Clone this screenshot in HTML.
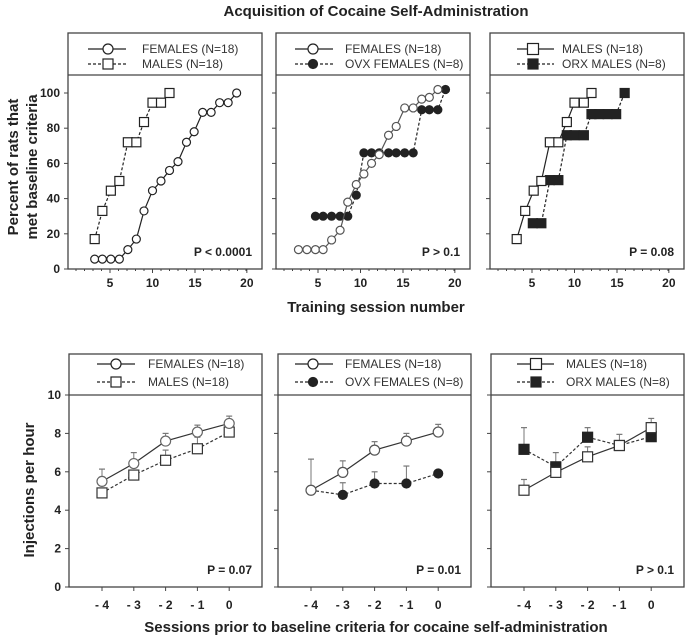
<!DOCTYPE html>
<html><head><meta charset="utf-8"><style>
body{margin:0;background:#fff}
svg{display:block;font-family:"Liberation Sans",Arial,sans-serif}
.tk{font-size:12px;font-weight:bold;fill:#222}
.lg{font-size:12px;fill:#333}
.pv{font-size:12px;font-weight:bold;fill:#222}
.ttl{font-size:15px;font-weight:bold;fill:#222}
</style></head><body>
<svg id="chart" width="685" height="636" viewBox="0 0 685 636">
<text class="ttl" x="376" y="16" text-anchor="middle">Acquisition of Cocaine Self-Administration</text>
<text class="ttl" x="376" y="312" text-anchor="middle">Training session number</text>
<text class="ttl" x="376" y="632" text-anchor="middle">Sessions prior to baseline criteria for cocaine self-administration</text>
<text class="ttl" transform="translate(18,167) rotate(-90)" text-anchor="middle">Percent of rats that</text>
<text class="ttl" transform="translate(37,167) rotate(-90)" text-anchor="middle">met baseline criteria</text>
<text class="ttl" transform="translate(34,490) rotate(-90)" text-anchor="middle">Injections per hour</text>
</svg>
<script>
// ---- Top row data (sessions, percent) ----
const p1FemS=[3.2,4.1,5.1,6.1,7.1,8.1,9,10,11,12,13,14,14.9,15.9,16.9,17.9,18.9,19.9];
const p1FemV=[5.6,5.6,5.6,5.6,11,17,33,44.5,50,56,61,72,78,89,89,94.5,94.5,100];
const p1MalS=[3.2,4.1,5.1,6.1,7.1,8.1,9,10,11,12];
const p1MalV=[17,33,44.5,50,72,72,83.5,94.5,94.5,100];
const p2FemS=[2.7,3.7,4.7,5.6,6.6,7.6,8.5,9.5,10.4,11.3,12.2,13.3,14.2,15.2,16.2,17.2,18.1,19.1];
const p2FemV=[11,11,11,11,16.5,22,38,48,54,60,65,76,81,91.5,91.5,96.5,97.5,102];
const p2OvxS=[4.7,5.6,6.6,7.6,8.5,9.5,10.4,11.3,12.2,13.3,14.2,15.2,16.2,17.2,18.1,19.1,20.0];
const p2OvxV=[30,30,30,30,30,42,66,66,66,66,66,66,66,90.5,90.5,90.5,102];
const p3MalS=[3.2,4.2,5.2,6.1,7.1,8.1,9.1,10,11.1,12];
const p3MalV=[17,33,44.5,50,72,72,83.5,94.5,94.5,100];
const p3OrxS=[5.1,6.1,7.1,8.1,9.1,10,11.1,12,12.9,13.9,14.9,15.9];
const p3OrxV=[26,26,50.5,50.5,76,76,76,88,88,88,88,100];
const topTicksY=[0,20,40,60,80,100];
const topTicksX=[5,10,15,20];
// ---- Bottom row data ----
const botCats=[-4,-3,-2,-1,0];
const botTickLabels=["- 4","- 3","- 2","- 1","0"];
const botTicksY=[0,2,4,6,8,10];
const b1Fem=[5.5,6.43,7.6,8.07,8.52];
const b1FemErr=[6.14,7.0,8.0,8.43,8.9];
const b1Mal=[4.9,5.83,6.6,7.2,8.07];
const b1MalErr=[null,null,7.13,7.8,null];
const b2Fem=[5.04,5.97,7.13,7.6,8.07];
const b2FemErr=[6.66,6.57,7.57,8.0,8.47];
const b2Ovx=[5.04,4.8,5.39,5.39,5.91];
const b2OvxErr=[null,5.43,6.0,6.3,null];
const b3Mal=[5.04,5.97,6.78,7.37,8.3];
const b3MalErr=[5.6,null,7.3,null,8.78];
const b3Orx=[7.17,6.26,7.8,7.37,7.83];
const b3OrxErr=[8.3,7.0,8.3,7.95,null];

const svg=document.getElementById('chart');
const NS='http://www.w3.org/2000/svg';
function mk(tag,attrs,parent){const e=document.createElementNS(NS,tag);for(const k in attrs)e.setAttribute(k,attrs[k]);(parent||svg).appendChild(e);return e;}
function marker(g,shape,filled,x,y,s,stroke){
  let e;
  if(shape==='c'){e=mk('circle',{cx:x,cy:y,r:s/2,fill:filled?'#222':'#fff',stroke:stroke,'stroke-width':1.2},g);}
  else{e=mk('rect',{x:x-s/2,y:y-s/2,width:s,height:s,fill:filled?'#222':'#fff',stroke:stroke,'stroke-width':1.2},g);}
  
  
}
function legend(g,left,top,y1,y2,l,s1,s2){
  const rows=[[y1,s1,false],[y2,s2,true]];
  rows.forEach(r=>{
    const [y,s,dash]=r;
    const ln=mk('line',{x1:left+l.a,x2:left+l.b,y1:y,y2:y,stroke:'#222','stroke-width':1.2,'stroke-dasharray':dash?'3,2':'none'},g);
    
    
    marker(g,s.shape,s.filled,left+l.m,y,s.size,s.stroke);
    const t=mk('text',{x:left+l.t,y:y+4,class:'lg'},g);
    t.textContent=s.label;
    
    
  });
}

// ---- Top panels ----
const topPanels=[
 {left:68,pv:'P < 0.0001',lg:{a:20,b:58,m:40,t:74},ser:[
   {S:p1FemS,V:p1FemV,shape:'c',filled:false,dash:false,label:'FEMALES (N=18)',stroke:'#222'},
   {S:p1MalS,V:p1MalV,shape:'s',filled:false,dash:true,label:'MALES (N=18)',stroke:'#222'}]},
 {left:276,pv:'P > 0.1',lg:{a:19,b:57,m:37,t:69},ser:[
   {S:p2FemS,V:p2FemV,shape:'c',filled:false,dash:false,label:'FEMALES (N=18)',stroke:'#555'},
   {S:p2OvxS,V:p2OvxV,shape:'c',filled:true,dash:true,label:'OVX FEMALES (N=8)',stroke:'#222'}]},
 {left:490,pv:'P = 0.08',lg:{a:27,b:64,m:43,t:72},ser:[
   {S:p3MalS,V:p3MalV,shape:'s',filled:false,dash:false,label:'MALES (N=18)',stroke:'#222'},
   {S:p3OrxS,V:p3OrxV,shape:'s',filled:true,dash:true,label:'ORX MALES (N=8)',stroke:'#222'}]}
];
const TW=194, TTOP=33, TDIV=75, TBOT=269;
topPanels.forEach((p,pi)=>{
  const g=mk('g',{});
  
  
  const xs=s=>p.left+42+(s-5)*8.5;
  const xt=s=>s>=20?xs(s+1.1):xs(s);
  const ys=v=>TBOT-v*1.76;
  const box=mk('rect',{x:p.left,y:TTOP,width:TW,height:TBOT-TTOP,fill:'none',stroke:'#444','stroke-width':1.3},g);
  
  
  const dv=mk('line',{x1:p.left,x2:p.left+TW,y1:TDIV,y2:TDIV,stroke:'#444','stroke-width':1.3},g);
  
  
  topTicksY.forEach(v=>{
    const t=mk('line',{x1:p.left-4,x2:p.left,y1:ys(v),y2:ys(v),stroke:'#444'},g);
    
    
    if(pi===0){const l=mk('text',{x:p.left-8,y:ys(v)+4,'text-anchor':'end',class:'tk'},g);l.textContent=v;
      
      }
  });
  for(let s=1;s<=21;s++){
    const t=mk('line',{x1:xs(s),x2:xs(s),y1:TBOT,y2:TBOT+2,stroke:'#444'},g);
    
    
  }
  topTicksX.forEach(s=>{
    const t=mk('line',{x1:xt(s),x2:xt(s),y1:TBOT,y2:TBOT+4,stroke:'#444'},g);
    
    
    const l=mk('text',{x:xt(s),y:TBOT+18,'text-anchor':'middle',class:'tk'},g);l.textContent=s;
    
    
  });
  p.ser.slice().reverse().forEach(se=>{
    const pts=se.S.map((s,i)=>xs(s)+','+ys(se.V[i])).join(' ');
    const pl=mk('polyline',{points:pts,fill:'none',stroke:se.stroke,'stroke-width':1.2,'stroke-dasharray':se.dash?'3,2':'none'},g);
    
    
    se.S.forEach((s,i)=>marker(g,se.shape,se.filled,xs(s),ys(se.V[i]),se.shape==='c'?8:9,se.stroke));
  });
  legend(g,p.left,TTOP,49,64,p.lg,
    {shape:p.ser[0].shape,filled:p.ser[0].filled,size:p.ser[0].shape==='c'?10:11,stroke:'#222',label:p.ser[0].label},
    {shape:p.ser[1].shape,filled:p.ser[1].filled,size:p.ser[1].shape==='c'?9:10,stroke:'#222',label:p.ser[1].label});
  const pt=mk('text',{x:p.left+TW-10,y:256,'text-anchor':'end',class:'pv'},g);pt.textContent=p.pv;
  
  
});

// ---- Bottom panels ----
const botPanels=[
 {left:69,pv:'P = 0.07',lg:{a:28,b:66,m:47,t:79},ser:[
   {V:b1Fem,E:b1FemErr,shape:'c',filled:false,dash:false,label:'FEMALES (N=18)',stroke:'#666'},
   {V:b1Mal,E:b1MalErr,shape:'s',filled:false,dash:true,label:'MALES (N=18)',stroke:'#333'}]},
 {left:278,pv:'P = 0.01',lg:{a:17,b:55,m:35,t:67},ser:[
   {V:b2Fem,E:b2FemErr,shape:'c',filled:false,dash:false,label:'FEMALES (N=18)',stroke:'#555'},
   {V:b2Ovx,E:b2OvxErr,shape:'c',filled:true,dash:true,label:'OVX FEMALES (N=8)',stroke:'#222'}]},
 {left:491,pv:'P > 0.1',lg:{a:26,b:63,m:45,t:75},ser:[
   {V:b3Mal,E:b3MalErr,shape:'s',filled:false,dash:false,label:'MALES (N=18)',stroke:'#333'},
   {V:b3Orx,E:b3OrxErr,shape:'s',filled:true,dash:true,label:'ORX MALES (N=8)',stroke:'#222'}]}
];
const BW=193, BTOP=354, BDIV=395, BBOT=587;
botPanels.forEach((p,pi)=>{
  const g=mk('g',{});
  
  
  const xs=c=>p.left+33+(c+4)*31.8;
  const ys=v=>BBOT-v*19.2;
  const box=mk('rect',{x:p.left,y:BTOP,width:BW,height:BBOT-BTOP,fill:'none',stroke:'#444','stroke-width':1.3},g);
  
  
  const dv=mk('line',{x1:p.left,x2:p.left+BW,y1:BDIV,y2:BDIV,stroke:'#444','stroke-width':1.3},g);
  
  
  botTicksY.forEach(v=>{
    const t=mk('line',{x1:p.left-4,x2:p.left,y1:ys(v),y2:ys(v),stroke:'#444'},g);
    
    
    if(pi===0){const l=mk('text',{x:p.left-8,y:ys(v)+4,'text-anchor':'end',class:'tk'},g);l.textContent=v;
      
      }
  });
  botCats.forEach((c,i)=>{
    const t=mk('line',{x1:xs(c),x2:xs(c),y1:BBOT,y2:BBOT+4,stroke:'#444'},g);
    
    
    const l=mk('text',{x:xs(c),y:BBOT+22,'text-anchor':'middle',class:'tk'},g);l.textContent=botTickLabels[i];
    
    
  });
  p.ser.forEach(se=>{
    se.E.forEach((e,i)=>{
      if(e===null)return;
      const x=xs(botCats[i]);
      const a=mk('line',{x1:x,x2:x,y1:ys(se.V[i]),y2:ys(e),stroke:'#777','stroke-width':1},g);
      
      
      const b=mk('line',{x1:x-3,x2:x+3,y1:ys(e),y2:ys(e),stroke:'#777','stroke-width':1.2},g);
      
      
    });
  });
  p.ser.slice().reverse().forEach(se=>{
    const pts=botCats.map((c,i)=>xs(c)+','+ys(se.V[i])).join(' ');
    const pl=mk('polyline',{points:pts,fill:'none',stroke:'#333','stroke-width':1.2,'stroke-dasharray':se.dash?'3,2':'none'},g);
    
    
  });
  p.ser.slice().reverse().forEach(se=>{
    botCats.forEach((c,i)=>marker(g,se.shape,se.filled,xs(c),ys(se.V[i]),se.shape==='c'?(se.filled?9:10):10,se.stroke));
  });
  legend(g,p.left,BTOP,364,382,p.lg,
    {shape:p.ser[0].shape,filled:p.ser[0].filled,size:p.ser[0].shape==='c'?10:11,stroke:'#222',label:p.ser[0].label},
    {shape:p.ser[1].shape,filled:p.ser[1].filled,size:p.ser[1].shape==='c'?9:10,stroke:'#222',label:p.ser[1].label});
  const pt=mk('text',{x:p.left+BW-10,y:574,'text-anchor':'end',class:'pv'},g);pt.textContent=p.pv;
  
  
});
</script>
</body></html>
